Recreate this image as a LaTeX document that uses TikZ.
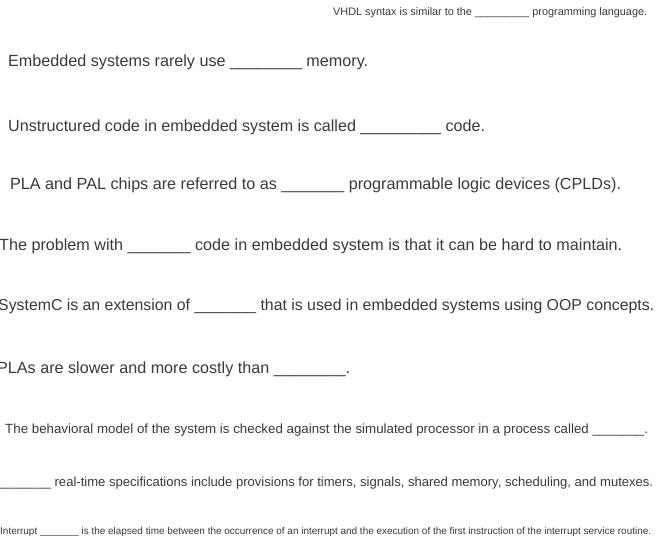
\documentclass[tikz,border=0pt]{standalone}
\usepackage{fontspec}
\setmainfont{Liberation Sans}
\definecolor{txt}{HTML}{3A3A3A}
\begin{document}
\begin{tikzpicture}[x=1pt,y=-1pt,
  q/.style={anchor=west,inner sep=0pt,text=txt,font=\fontsize{20}{24}\selectfont}]
\useasboundingbox[fill=white] (0,0) rectangle (669,547);
\node[q] (l1) at (333,13) {\resizebox{314pt}{!}{VHDL syntax is similar to the \_\_\_\_\_\_\_\_\_ programming language.}};
\node[q] (l2) at (8,62) {\resizebox{360pt}{!}{Embedded systems rarely use \_\_\_\_\_\_\_\_ memory.}};
\node[q] (l3) at (8,127) {\resizebox{477pt}{!}{Unstructured code in embedded system is called \_\_\_\_\_\_\_\_\_ code.}};
\node[q] (l4) at (10,185) {\resizebox{611pt}{!}{PLA and PAL chips are referred to as \_\_\_\_\_\_\_ programmable logic devices (CPLDs).}};
\node[q] (l5) at (-1,246) {\resizebox{623pt}{!}{The problem with \_\_\_\_\_\_\_ code in embedded system is that it can be hard to maintain.}};
\node[q] (l6) at (-2,306) {\resizebox{656pt}{!}{SystemC is an extension of \_\_\_\_\_\_\_ that is used in embedded systems using OOP concepts.}};
\node[q] (l7) at (-3,369) {\resizebox{353pt}{!}{PLAs are slower and more costly than \_\_\_\_\_\_\_\_.}};
\node[q] (l8) at (5,430) {\resizebox{643pt}{!}{The behavioral model of the system is checked against the simulated processor in a process called \_\_\_\_\_\_\_.}};
\node[q] (l9) at (0,483) {\resizebox{653pt}{!}{\_\_\_\_\_\_\_ real-time specifications include provisions for timers, signals, shared memory, scheduling, and mutexes.}};
\node[q] (l10) at (0,532) {\resizebox{651pt}{!}{Interrupt \_\_\_\_\_\_\_ is the elapsed time between the occurrence of an interrupt and the execution of the first instruction of the interrupt service routine.}};
\end{tikzpicture}
\end{document}
